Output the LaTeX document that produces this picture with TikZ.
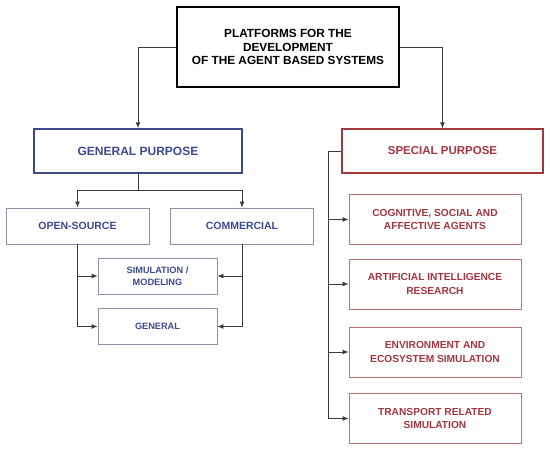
\documentclass[tikz,border=0pt]{standalone}
\usepackage{fontspec}
\setmainfont{Liberation Sans}
\usetikzlibrary{arrows.meta}

\definecolor{genblue}{HTML}{3B4A8E}
\definecolor{genframe}{HTML}{8C92A8}
\definecolor{specred}{HTML}{A3363C}
\definecolor{specframe}{HTML}{BC7074}
\definecolor{linegray}{HTML}{3A3A3A}

\tikzset{
  titlebox/.style={draw=black, line width=1.7pt, align=center, inner sep=0pt,
    minimum width=222pt, minimum height=80pt,
    font=\fontsize{11.8}{13.3}\selectfont\bfseries},
  genhead/.style={draw=genblue, line width=1.5pt, text=genblue, inner sep=0pt,
    minimum width=208pt, minimum height=44pt,
    font=\fontsize{12}{14}\selectfont\bfseries},
  gensub/.style={draw=genframe, line width=0.8pt, text=genblue, inner sep=0pt,
    minimum width=143pt, minimum height=36pt,
    font=\fontsize{10.5}{12.5}\selectfont\bfseries},
  genleaf/.style={gensub, align=center, minimum width=119pt,
    font=\fontsize{9.2}{11.7}\selectfont\bfseries},
  spechead/.style={draw=specred, line width=1.3pt, text=specred, inner sep=0pt,
    minimum width=201pt, minimum height=44pt,
    font=\fontsize{11.5}{14}\selectfont\bfseries},
  specleaf/.style={draw=specframe, line width=0.8pt, text=specred, align=center,
    inner sep=0pt, minimum width=172pt, minimum height=50pt,
    font=\fontsize{10.2}{13.3}\selectfont\bfseries},
  link/.style={draw=linegray, line width=1pt},
  arrow/.style={link, -{Latex[length=6pt,width=5pt]}}
}

\begin{document}
\begin{tikzpicture}[x=1pt, y=-1pt]
    \useasboundingbox (0,0) rectangle (550,450);

    % Title
    \node[titlebox] (top) at (288,47) {PLATFORMS FOR THE\\DEVELOPMENT\\OF THE AGENT BASED SYSTEMS};

    % General purpose branch
    \node[genhead] (gp) at (138,151) {GENERAL PURPOSE};
    \node[gensub] (os) at (77.5,226) {OPEN-SOURCE};
    \node[gensub] (com) at (242,226) {COMMERCIAL};
    \node[genleaf] (sim) at (157.5,276) {SIMULATION /\\MODELING};
    \node[genleaf] (gen) at (157.5,326.5) {GENERAL};

    % Special purpose branch
    \node[spechead] (sp) at (442.5,151) {SPECIAL PURPOSE};
    \node[specleaf] (cog) at (435,219.5) {COGNITIVE, SOCIAL AND\\AFFECTIVE AGENTS};
    \node[specleaf] (ai) at (435,284) {ARTIFICIAL INTELLIGENCE\\RESEARCH};
    \node[specleaf] (env) at (435,352) {ENVIRONMENT AND\\ECOSYSTEM SIMULATION};
    \node[specleaf] (tr) at (435,418.5) {TRANSPORT RELATED\\SIMULATION};

    % Junction points
    \coordinate (gpsplit) at (138,190);
    \coordinate (spbus) at (328,151);

    % Title to both branches
    \draw[arrow] (top.west) -| (gp.north);
    \draw[arrow] (top.east) -| (sp.north);

    % General purpose connectors
    \draw[link] (gp.south) -- (gpsplit);
    \draw[arrow] (gpsplit) -| (os.north);
    \draw[arrow] (gpsplit) -| (com.north);
    \draw[arrow] (os.south) |- (sim.west);
    \draw[arrow] (os.south) |- (gen.west);
    \draw[arrow] (com.south) |- (sim.east);
    \draw[arrow] (com.south) |- (gen.east);

    % Special purpose connectors
    \draw[link] (sp.west) -- (spbus);
    \foreach \leaf in {cog, ai, env, tr}
        \draw[arrow] (spbus) |- (\leaf.west);
\end{tikzpicture}
\end{document}
